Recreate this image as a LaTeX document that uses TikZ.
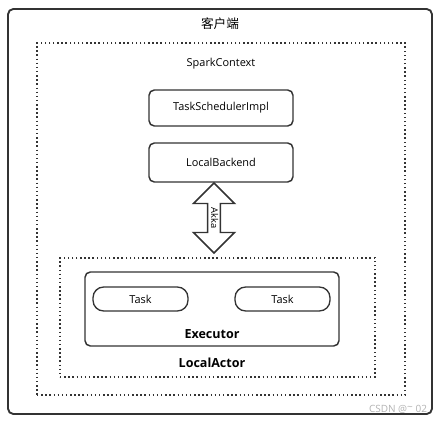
\documentclass[tikz,border=0pt]{standalone}
\usepackage{fontspec}
\setmainfont{Open Sans}
\newfontfamily\cjk{Noto Sans CJK SC}
\usetikzlibrary{shapes.arrows}

\definecolor{linegray}{HTML}{333333}

\tikzset{
  box/.style={draw=linegray, line width=1.1pt, rounded corners=4pt, minimum width=#1},
  task/.style={draw=linegray, line width=1pt, rounded corners=8pt, minimum width=71.25pt, minimum height=18pt, font=\fontsize{8.2}{10}\selectfont},
  dotbox/.style={draw=linegray, line width=1.1pt, dotted},
  title/.style={font=\fontsize{8.2}{10}\selectfont},
  bold/.style={font=\fontsize{9.4}{11}\selectfont\bfseries}
}

\begin{document}
\begin{tikzpicture}[x=0.75pt, y=-0.75pt]
  \useasboundingbox (0,0) rectangle (442,424);
  % client
  \node[draw=linegray, line width=1.4pt, rounded corners=4pt, minimum width=318pt, minimum height=303.75pt] (client) at (220,211.5) {};
  \node[font=\cjk\fontsize{9.5}{11}\selectfont] (clientlbl) at (220,24) {客户端};
  % spark context
  \node[dotbox, minimum width=276pt, minimum height=264pt] (spark) at (221,219) {};
  \node[title] (sparklbl) at (221,64) {SparkContext};
  \node[box=108pt, minimum height=27pt, title] (sched) at (221,108) {TaskSchedulerImpl};
  \node[box=108pt, minimum height=29.25pt, title] (backend) at (221,162.5) {LocalBackend};
  % local actor
  \node[dotbox, minimum width=236.25pt, minimum height=89.25pt] (actor) at (217.5,317.5) {};
  \node[bold] (actorlbl) at (212,363) {LocalActor};
  \node[box=190.5pt, minimum height=55.5pt] (exec) at (212,309) {};
  \node[bold] (execlbl) at (212,334) {Executor};
  \node[task] (task1) at (140.5,299) {Task};
  \node[task] (task2) at (282.5,299) {Task};
  % akka
  \node[draw=linegray, line width=1.1pt, shape=double arrow, rotate=-90,
        minimum height=52.5pt, minimum width=30.75pt, inner xsep=1pt, inner ysep=1pt,
        double arrow head extend=10.5pt, font=\fontsize{7}{8}\selectfont,
        text height=5.5pt, text depth=1pt] (akka) at (214,218) {Akka};
  % watermark
  \node[text=gray!60, font=\fontsize{7.5}{9}\selectfont] (mark) at (398,409) {CSDN @\raisebox{0.3ex}{\textasciitilde} 02};
\end{tikzpicture}
\end{document}
